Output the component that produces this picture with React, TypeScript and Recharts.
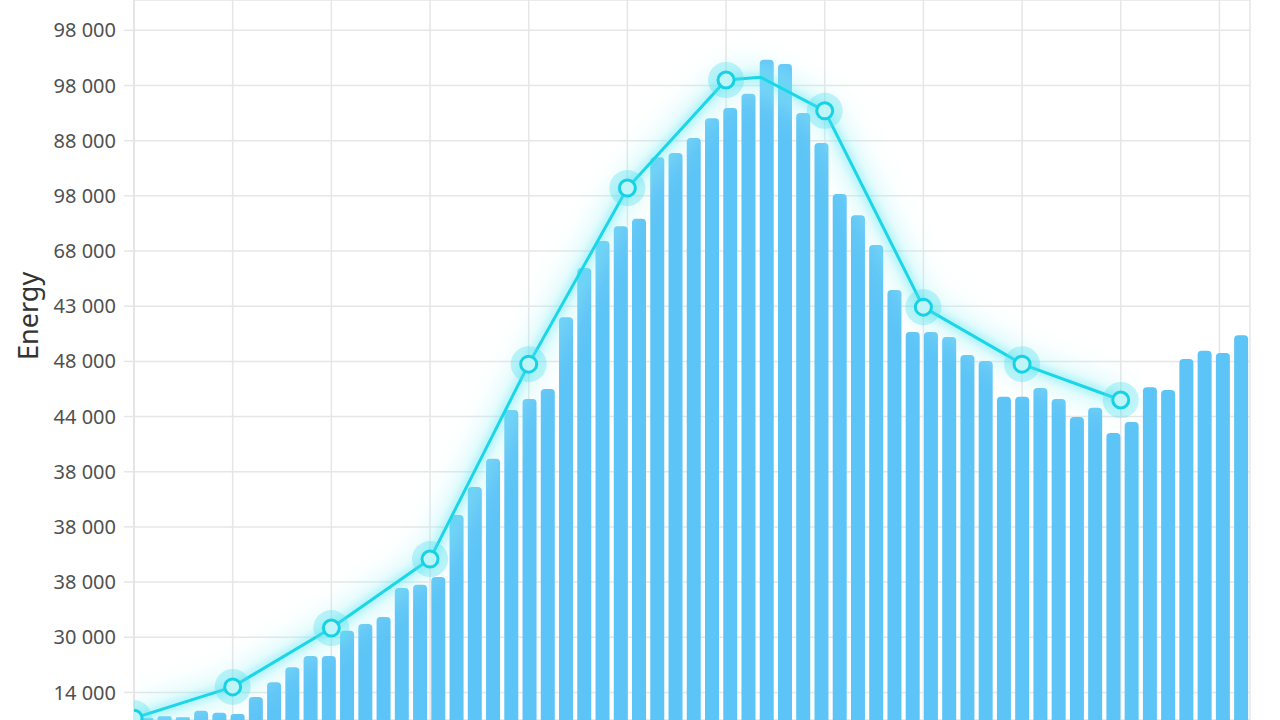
import React from "react";
import {
  Bar,
  CartesianGrid,
  ComposedChart,
  Line,
  XAxis,
  YAxis,
} from "recharts";

// bar series, one value per period
const periods = Array.from({ length: 61 }, (_, i) => `P${i + 1}`);
const barValues = [
  11200, 11400, 11300, 12000, 11800, 11650, 13500, 15100, 16750, 17950,
  17950, 20700, 21450, 22200, 25350, 25700, 26550, 33300, 36350, 39400,
  44700, 45900, 47000, 54800, 60150, 63100, 64700, 65500, 72200, 72650,
  74300, 76450, 77550, 79100, 82800, 82350, 77000, 73750, 68200, 65900,
  62650, 57750, 53200, 53200, 52650, 50700, 50050, 46150, 46150, 47100,
  45900, 43950, 44950, 42200, 43400, 47200, 46900, 50250, 51150, 50900,
  52850,
];

// trend line, one point per grid column (plus the unmarked crest at ~6.35)
const trendX = [0, 1, 2, 3, 4, 5, 6, 6.35, 7, 8, 9, 10];
const trendValues = [
  11200, 14600, 21000, 28500, 49700, 68850, 80600, 80900, 77250, 55900,
  49700, 45800,
];
const trendMarked = [true, true, true, true, true, true, true, false, true, true, true, true];

const yTicks = [
  14000, 20000, 26000, 32000, 38000, 44000, 50000, 56000, 62000, 68000,
  74000, 80000, 86000,
];
const yTickLabels = [
  "14 000", "30 000", "38 000", "38 000", "38 000", "44 000", "48 000",
  "43 000", "68 000", "98 000", "88 000", "98 000", "98 000",
];
const gridColumns = [0, 1, 2, 3, 4, 5, 6, 7, 8, 9, 10, 11];

const barData = periods.map((p, i) => ({ period: p, energy: barValues[i] }));
const trendData = trendX.map((x, i) => ({
  x,
  trend: trendValues[i],
  marked: trendMarked[i],
}));

const renderDot = (props: any) => {
  const { cx, cy, index, payload } = props;
  if (!payload?.marked) return <g key={`dot-${index}`} />;
  return (
    <g key={`dot-${index}`}>
      <circle cx={cx} cy={cy} r={18} fill="#4fdfee" opacity={0.35} />
      <circle cx={cx} cy={cy} r={8} fill="#bff4f9" stroke="#16d2e4" strokeWidth={3} />
    </g>
  );
};

export default function App() {
  return (
    <div
      style={{
        position: "fixed",
        top: 0,
        left: 0,
        width: 1280,
        height: 720,
        overflow: "hidden",
        background: "#ffffff",
      }}
    >
      <ComposedChart
        width={1280}
        height={720}
        data={barData}
        margin={{ top: 0, right: 30, bottom: 0, left: 0 }}
        barCategoryGap="13%"
      >
        <CartesianGrid xAxisId="line" stroke="#e6e6e6" strokeWidth={1.5} />
        <XAxis xAxisId="bar" dataKey="period" hide padding={{ left: 3, right: 0 }} />
        <XAxis
          xAxisId="line"
          type="number"
          dataKey="x"
          domain={[0, 11.31]}
          ticks={gridColumns}
          allowDataOverflow
          hide
        />
        <YAxis
          type="number"
          domain={[11000, 89300]}
          ticks={yTicks}
          allowDataOverflow
          width={134}
          axisLine={{ stroke: "#e3e3e3", strokeWidth: 1.5 }}
          tickLine={{ stroke: "#e6e6e6", strokeWidth: 1.5 }}
          tickSize={10}
          tickMargin={8}
          tick={{ fill: "#505050", fontSize: 20, fontFamily: "Noto Sans" }}
          tickFormatter={(v: number) => yTickLabels[yTicks.indexOf(v)] ?? ""}
          label={{
            value: "Energy",
            angle: -90,
            position: "insideLeft",
            offset: 28,
            style: { fill: "#333333", fontSize: 27, fontFamily: "Noto Sans" },
          }}
        />
        <Bar
          xAxisId="bar"
          dataKey="energy"
          fill="#5cc4f6"
          radius={[4, 4, 0, 0]}
          isAnimationActive={false}
        />
        <Line
          xAxisId="line"
          data={trendData}
          dataKey="trend"
          type="linear"
          stroke="#1bd6e6"
          strokeWidth={3}
          dot={renderDot}
          activeDot={false}
          isAnimationActive={false}
          style={{
            filter:
              "drop-shadow(0 0 5px #3ee3f0) drop-shadow(0 0 12px #86eef6) drop-shadow(0 0 16px #c4f7fa)",
          }}
        />
      </ComposedChart>
    </div>
  );
}
